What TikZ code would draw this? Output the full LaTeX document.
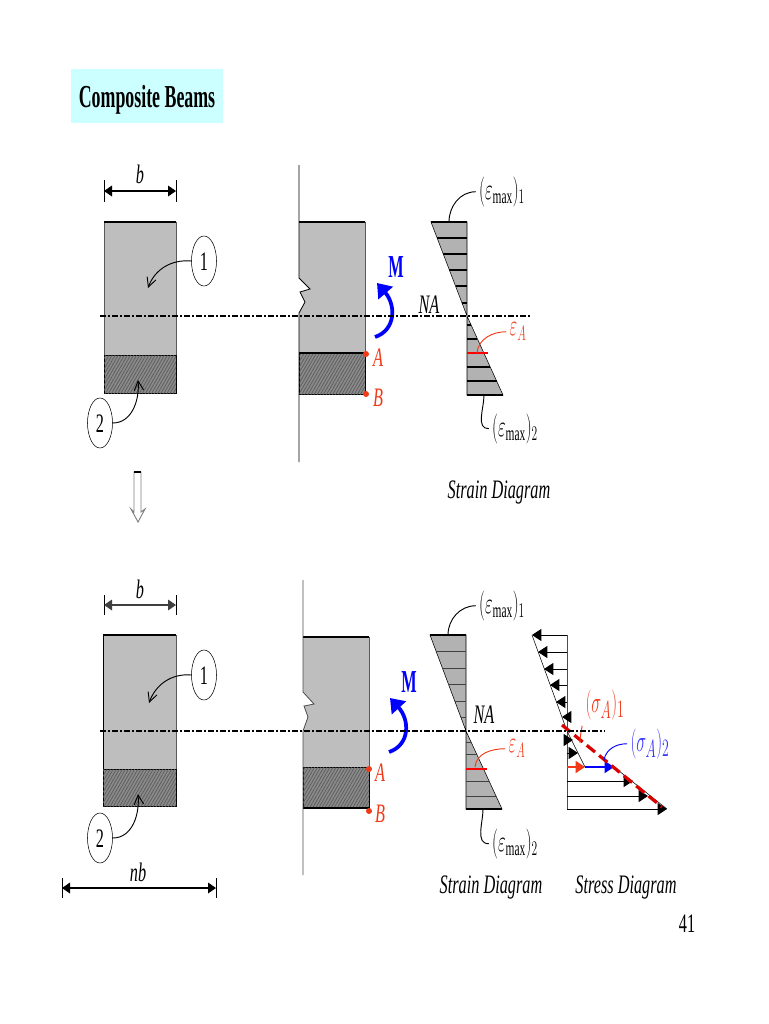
\documentclass[tikz,border=0pt]{standalone}
\usepackage{fontspec}
\setmainfont{Liberation Serif}
\usetikzlibrary{arrows.meta,patterns.meta,shapes.geometric}
\definecolor{beamgray}{HTML}{BEBEBE}
\definecolor{hatchgray}{HTML}{8A8A8A}
\definecolor{titlecyan}{HTML}{CCFFFF}
\definecolor{ptred}{HTML}{F03A17}
\tikzset{
  lbl/.style={xscale=.61,yshift=-1pt,font=\fontsize{20}{22}\selectfont\itshape},
  mlbl/.style={xscale=.72,yscale=1.3,yshift=-1pt,font=\fontsize{17}{20}\selectfont\itshape},
  momlbl/.style={xscale=.61,yscale=1.2,text=blue,font=\fontsize{20}{22}\selectfont\bfseries},
  num/.style={draw,ellipse,fill=white,minimum width=18.75pt,minimum height=37.5pt,inner sep=0pt,
    font=\fontsize{20}{22}\selectfont},
  numtext/.style={xscale=.61,font=\fontsize{20}{22}\selectfont},
  lead/.style={line width=.7pt},
  pointer/.style={line width=.7pt,-{Straight Barb[length=7pt,width=7pt]}},
  dim/.style={line width=1pt,{Triangle[length=6pt,width=8pt]}-{Triangle[length=6pt,width=8pt]}},
  soft/.style={-{Triangle[length=7pt,width=9pt]}},
  moment/.style={blue,line width=2.8pt,-{Triangle[length=10pt,width=14pt]}},
  hatched/.style={draw=black,fill=hatchgray,postaction={pattern={Lines[angle=60,distance=2pt,line width=.5pt]},pattern color=black!65}},
  pt/.style={circle,fill=ptred,inner sep=0pt,minimum size=4.5pt}
}
\begin{document}
\begin{tikzpicture}[x=.75pt,y=-.75pt]
  \useasboundingbox (0,0) rectangle (768,1024);
  \node[fill=titlecyan,minimum width=114pt,minimum height=40.5pt,inner sep=0pt] (titlebox) at (147,96) {};
  \node[font=\fontsize{24}{26}\selectfont\bfseries,xscale=.558] (title) at (147,100) {Composite Beams};

  % top cross section
  \draw[draw=gray!70!black,fill=beamgray] (104,222) rectangle (176,355);
  \draw[line width=1pt] (104,222) -- (176,222);
  \draw[hatched] (104,355) rectangle (176,393);
  \draw[line width=.4pt] (104,180) -- (104,202);
  \draw[line width=.4pt] (176,180) -- (176,202);
  \coordinate (dimAl) at (104,191);
  \coordinate (dimAr) at (176,191);
  \draw[dim] (dimAl) -- (dimAr);
  \node[lbl] (bA) at (140,173) {b};
  \node[num] (oneA) at (204,261) {};
  \node[numtext] (oneAt) at (204,262) {1};
  \node[num] (twoA) at (100,423) {};
  \node[numtext] (twoAt) at (100,424) {2};
  \coordinate (tgtA) at (148,288);
  \coordinate (tgtB) at (138,380);
  \draw[pointer] (oneA.west) to[out=175,in=70] (tgtA);
  \draw[pointer] (twoA.east) to[out=0,in=-85] (tgtB);

  % top beam
  \fill[beamgray] (299,222) -- (365,222) -- (365,353) -- (299,353) -- (299,313)
    -- (305,302) -- (300,292) -- (310,289) -- (299,278) -- cycle;
  \draw[gray!70!black] (365,222) -- (365,353);
  \draw[line width=1pt] (299,222) -- (365,222);
  \draw[hatched] (299,353) rectangle (365,394);
  \draw[line width=1.4pt] (299,353) -- (365,353);
  \draw[line width=.6pt] (299,165) -- (299,278) -- (310,289) -- (300,292) -- (305,302) -- (299,313) -- (299,462);
  \node[pt] (ptA) at (366,354) {};
  \node[pt] (ptB) at (366,394) {};
  \node[lbl,text=ptred] (lblA) at (378,356) {A};
  \node[lbl,text=ptred] (lblB) at (378,396) {B};
  \node[momlbl] (momA) at (396,267) {M};
  \draw[moment] (375,337) .. controls (396,330) and (396,305) .. (377,283);

  % top strain
  \fill[gray!60] (431,222) -- (467,222) -- (467,395) -- (503,395) -- (467,316) -- cycle;
  \draw (431,222) -- (467,316) -- (503,395) -- (467,395) -- (467,222) -- cycle;
  \draw[line width=1pt] (431,222) -- (467,222);
  \foreach \yy in {238,254,270,286,303}
    \draw[line width=.8pt] ({431+36*(\yy-222)/94},\yy) -- (467,\yy);
  \foreach \yy in {325,339,367,381}
    \draw[line width=.8pt] (467,\yy) -- ({467+36*(\yy-316)/79},\yy);
  \draw[line width=1pt] (467,395) -- (503,395);
  \draw[line width=1.6pt,red] (467,353) -- (488,353);
  \coordinate (strainTopA) at (449,222);
  \coordinate (strainBotA) at (484,395);
  \coordinate (barA) at (477,353);
  \node[mlbl] (emaxA) at (502,190) {$(\varepsilon_{\mathrm{max}})_1$};
  \node[mlbl] (emaxB) at (515,427) {$(\varepsilon_{\mathrm{max}})_2$};
  \node[mlbl,text=ptred] (epsA) at (518,330) {$\varepsilon_A$};
  \node[lbl] (naA) at (429,303) {NA};
  \draw[lead] (strainTopA) to[out=90,in=180] (emaxA.west);
  \draw[lead] (strainBotA) to[out=-90,in=180] (emaxB.west);
  \draw[lead,ptred] (barA) to[out=85,in=180] (epsA.west);
  \node[lbl] (strainA) at (499,491) {Strain Diagram};
  \draw[line width=1.5pt,dash pattern=on 4.5pt off 1.5pt on 1.5pt off 1.5pt] (100,316) -- (532,316);

  % transform arrow
  \draw[draw=gray,line width=.7pt,fill=white] (134,472) -- (141,472) -- (141,512) -- (145,509) -- (138,522)
    -- (131,509) -- (134,512) -- cycle;
  \draw[line width=1pt] (134,472) -- (141,472);

  % bottom cross section
  \draw[draw=gray!70!black,fill=beamgray] (103,635) rectangle (176,769);
  \draw[line width=1pt] (103,635) -- (176,635);
  \draw[line width=.6pt] (103,635) -- (103,769);
  \draw[hatched] (103,769) rectangle (176,806);
  \draw[line width=.4pt] (104,595) -- (104,615);
  \draw[line width=.4pt] (176,595) -- (176,615);
  \coordinate (dimBl) at (104,605);
  \coordinate (dimBr) at (176,605);
  \draw[dim,draw=black!75] (dimBl) -- (dimBr);
  \node[lbl] (bB) at (140,588) {b};
  \draw[line width=.4pt] (62,878) -- (62,898);
  \draw[line width=.4pt] (216,878) -- (216,898);
  \coordinate (dimCl) at (62,888);
  \coordinate (dimCr) at (216,888);
  \draw[dim] (dimCl) -- (dimCr);
  \node[lbl] (nb) at (138,871) {nb};
  \node[num] (oneB) at (204,675) {};
  \node[numtext] (oneBt) at (204,676) {1};
  \node[num] (twoB) at (100,838) {};
  \node[numtext] (twoBt) at (100,839) {2};
  \coordinate (tgtC) at (149,703);
  \coordinate (tgtD) at (138,794);
  \draw[pointer] (oneB.west) to[out=175,in=70] (tgtC);
  \draw[pointer] (twoB.east) to[out=0,in=-85] (tgtD);

  % bottom beam
  \fill[beamgray] (303,637) -- (369,637) -- (369,767) -- (303,767) -- (303,731)
    -- (308,717) -- (304,706) -- (314,704) -- (303,692) -- cycle;
  \draw[gray!70!black] (369,637) -- (369,767);
  \draw[line width=1pt] (303,637) -- (369,637);
  \draw[hatched] (303,767) rectangle (369,808);
  \draw[line width=1.4pt] (303,808) -- (369,808);
  \draw[black!70,line width=.6pt] (303,580) -- (303,692) -- (314,704) -- (304,706) -- (308,717) -- (303,731) -- (303,875);
  \node[pt] (ptC) at (369,769) {};
  \node[pt] (ptD) at (369,811) {};
  \node[lbl,text=ptred] (lblC) at (380,771) {A};
  \node[lbl,text=ptred] (lblD) at (380,812) {B};
  \node[momlbl] (momB) at (409,682) {M};
  \draw[moment] (389,752) .. controls (410,745) and (410,720) .. (390,698);

  % bottom strain
  \fill[gray!60] (430,635) -- (466,635) -- (466,809) -- (502,809) -- (466,731) -- cycle;
  \draw (430,635) -- (466,731) -- (502,809) -- (466,809) -- (466,635) -- cycle;
  \draw[line width=1pt] (430,635) -- (466,635);
  \foreach \yy in {651,668,684,701,717}
    \draw[line width=.6pt,black!75] ({430+36*(\yy-635)/96},\yy) -- (466,\yy);
  \foreach \yy in {742,754,781,796}
    \draw[line width=.6pt,black!75] (466,\yy) -- ({466+36*(\yy-731)/78},\yy);
  \draw[line width=1pt] (466,809) -- (502,809);
  \draw[line width=1.1pt,red] (466,769) -- (487,769);
  \coordinate (strainTopB) at (448,635);
  \coordinate (strainBotB) at (483,809);
  \coordinate (barB) at (475,767);
  \node[mlbl] (emaxC) at (502,604) {$(\varepsilon_{\mathrm{max}})_1$};
  \node[mlbl] (emaxD) at (515,842) {$(\varepsilon_{\mathrm{max}})_2$};
  \node[mlbl,text=ptred] (epsB) at (517,747) {$\varepsilon_A$};
  \node[lbl] (naB) at (484,713) {NA};
  \draw[lead] (strainTopB) to[out=90,in=180] (emaxC.west);
  \draw[lead] (strainBotB) to[out=-90,in=180] (emaxD.west);
  \draw[lead,ptred] (barB) to[out=85,in=180] (epsB.west);
  \node[lbl] (strainB) at (491,886) {Strain Diagram};

  % stress
  \draw[black!70] (567,635) -- (567,809);
  \draw (532,635) -- (567,731) -- (585,767);
  \draw (614,767) -- (667,809);
  \foreach \yy/\xx in {635/532,652/538,669/544,685/550,702/556,717/562}
    \draw[soft,line width=.7pt] (567,\yy) -- (\xx,\yy);
  \foreach \yy/\xx in {740/573,753/578,781/633,796/648,809/667}
    \draw[soft,line width=.7pt] (567,\yy) -- (\xx,\yy);
  \draw[soft,ptred,line width=.9pt] (567,767) -- (585,767);
  \draw[soft,blue,line width=.9pt] (585,767) -- (614,767);
  \draw[red!85!black,line width=2.4pt,dash pattern=on 8pt off 4pt] (562,725) -- (662,807);
  \node[mlbl,font=\fontsize{19}{22}\selectfont,text=ptred] (sigA) at (605,703) {$(\sigma_A)_1$};
  \node[mlbl,font=\fontsize{19}{22}\selectfont,text=blue!80!white] (sigB) at (650,742) {$(\sigma_A)_2$};
  \coordinate (stressA) at (580,743);
  \coordinate (stressB) at (604,760);
  \draw[lead,ptred] (stressA) to[out=90,in=-100] (sigA.south west);
  \draw[lead,blue] (stressB) to[out=80,in=180] (sigB.west);
  \node[lbl] (stress) at (626,886) {Stress Diagram};
  \draw[line width=.9pt,dash pattern=on 4.5pt off 1.5pt on 1.5pt off 1.5pt] (100,731) -- (605,731);

  \node[font=\fontsize{20}{22}\selectfont,xscale=.61] (page) at (687,924) {41};
\end{tikzpicture}
\end{document}
